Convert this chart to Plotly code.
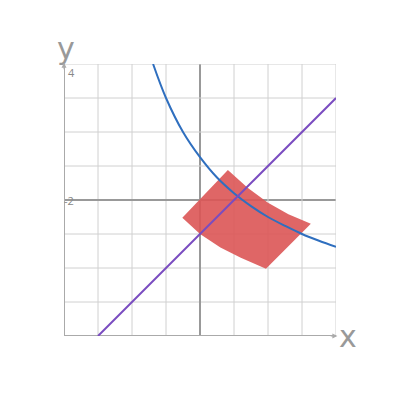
import plotly.graph_objects as go

line_x = [0.5, 4.0]
line_y = [0.0, 3.5]

curve_x = [1.31, 1.5, 1.75, 2.0, 2.25, 2.5, 2.75, 3.0, 3.25, 3.5, 3.75, 4.0]
curve_y = [4.0, 3.5, 3.0, 2.63, 2.33, 2.1, 1.91, 1.75, 1.62, 1.5, 1.4, 1.31]

region_x = [1.74, 2.41, 2.7, 3.0, 3.3, 3.63, 2.97, 2.6, 2.3, 2.0, 1.74]
region_y = [1.74, 2.44, 2.18, 1.96, 1.79, 1.65, 0.99, 1.15, 1.3, 1.5, 1.74]

grid_vals = [0.5, 1, 1.5, 2, 2.5, 3, 3.5, 4]

fig = go.Figure()
fig.add_trace(go.Scatter(x=region_x, y=region_y, fill="toself", mode="lines",
                         line=dict(color="rgba(0,0,0,0)", width=0),
                         fillcolor="rgba(220,85,85,0.9)"))
fig.add_trace(go.Scatter(x=curve_x, y=curve_y, mode="lines",
                         line=dict(color="#2f6fbf", width=2, shape="spline")))
fig.add_trace(go.Scatter(x=line_x, y=line_y, mode="lines",
                         line=dict(color="#7a4cc0", width=2)))

shapes = []
for v in grid_vals:
    c = "#999" if v == 2 else "#d0d0d0"
    w = 2 if v == 2 else 1
    shapes.append(dict(type="line", x0=v, x1=v, y0=0, y1=4, line=dict(color=c, width=w), layer="below"))
    shapes.append(dict(type="line", y0=v, y1=v, x0=0, x1=4, line=dict(color=c, width=w), layer="below"))
shapes.append(dict(type="line", x0=0, x1=4, y0=0, y1=0, line=dict(color="#aaa", width=2), layer="below"))
shapes.append(dict(type="line", x0=0, x1=0, y0=0, y1=4, line=dict(color="#aaa", width=2), layer="below"))

fig.update_layout(
    width=400, height=400, showlegend=False,
    margin=dict(l=56, r=72, t=56, b=72),
    plot_bgcolor="white", paper_bgcolor="white",
    xaxis=dict(range=[0, 4], visible=False, fixedrange=True),
    yaxis=dict(range=[0, 4], visible=False, fixedrange=True),
    shapes=shapes,
    annotations=[
        dict(x=0, y=4, xref="x", yref="y", text="y", showarrow=False, yshift=16, xshift=2,
             font=dict(size=30, color="#999", family="DejaVu Sans")),
        dict(x=4, y=0, xref="x", yref="y", text="x", showarrow=False, xshift=12, yshift=0,
             font=dict(size=30, color="#999", family="DejaVu Sans")),
        dict(x=0, y=4, xref="x", yref="y", text="4", showarrow=False, xshift=7, yshift=-8,
             font=dict(size=11, color="#888")),
        dict(x=0, y=2, xref="x", yref="y", text="-2", showarrow=False, xshift=5, yshift=0,
             font=dict(size=11, color="#888")),
        dict(x=0, y=4.02, xref="x", yref="y", ax=0, ay=3.9, axref="x", ayref="y", text="",
             showarrow=True, arrowhead=2, arrowcolor="#aaa", arrowsize=1),
        dict(x=4.02, y=0, xref="x", yref="y", ax=3.9, ay=0, axref="x", ayref="y", text="",
             showarrow=True, arrowhead=2, arrowcolor="#aaa", arrowsize=1),
    ],
)
fig.write_html("out.html")
